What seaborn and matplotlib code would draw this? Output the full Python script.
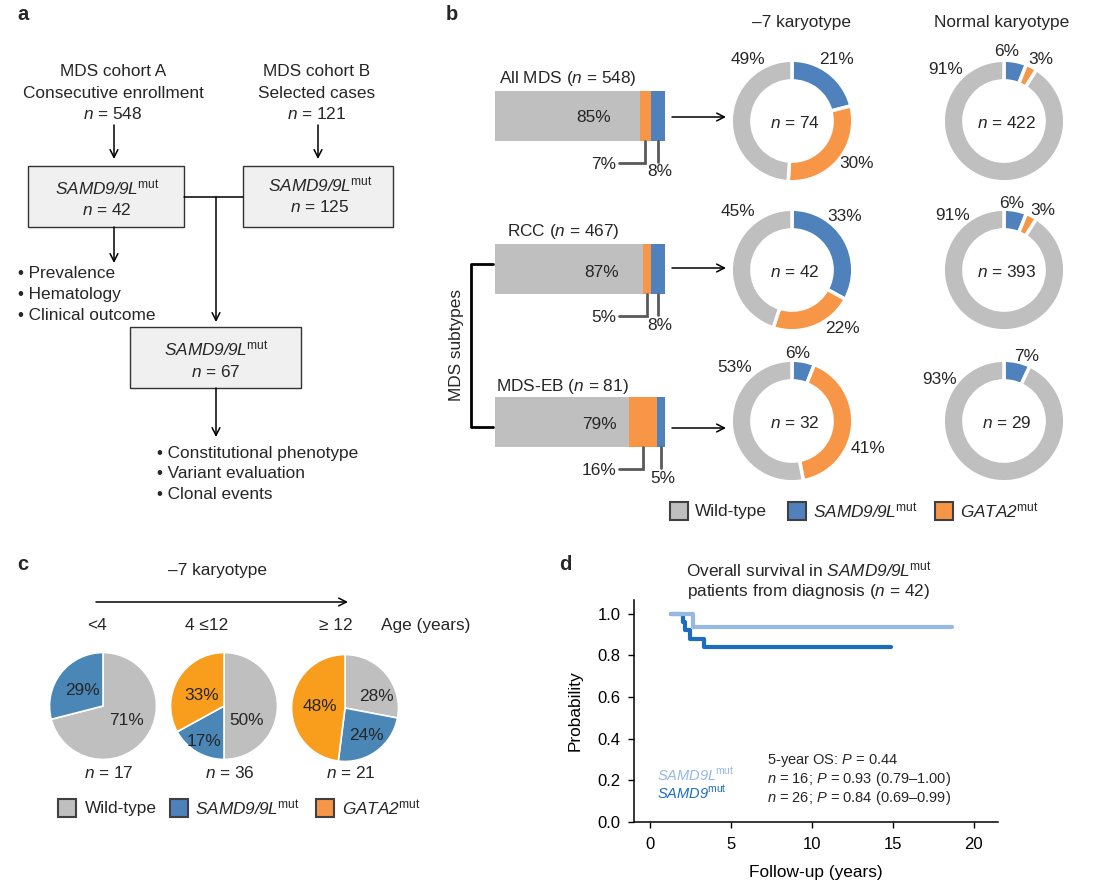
""" Multi-panel figure: SAMD9/9L cohort flow, prevalence bars/donuts,
age pies and overall survival curves
"""

import numpy as np
import pandas as pd
import matplotlib
matplotlib.use('Agg')
import matplotlib.pyplot as plt
from matplotlib.patches import Rectangle
import seaborn as sns

W, H = 1102, 888

# ---------------- data
# panel b, stacked bars (%)
bar_groups = ['All MDS', 'RCC', 'MDS-EB']
bar_n = [548, 467, 81]
bar_wt = [85, 87, 79]
bar_gata2 = [7, 5, 16]
bar_samd9 = [8, 8, 5]

# panel b, donuts (%), order SAMD9/9L, GATA2, wild-type
minus7_n = [74, 42, 32]
minus7_samd9 = [21, 33, 6]
minus7_gata2 = [30, 22, 41]
minus7_wt = [49, 45, 53]
normal_n = [422, 393, 29]
normal_samd9 = [6, 6, 7]
normal_gata2 = [3, 3, 0]
normal_wt = [91, 91, 93]

# panel c, -7 karyotype by age (%), order wild-type, SAMD9/9L, GATA2
age_groups = ['<4', '4 \u226412', '\u2265 12']
age_n = [17, 36, 21]
age_wt = [71, 50, 28]
age_samd9 = [29, 17, 24]
age_gata2 = [0, 33, 48]

# panel d, Kaplan-Meier steps (years, probability)
km_samd9l_t = [1.3, 2.63, 18.65]
km_samd9l_s = [1.0, 0.9375, 0.9375]
km_samd9_t = [1.3, 2.02, 2.15, 2.45, 3.3, 14.9]
km_samd9_s = [1.0, 0.96, 0.92, 0.88, 0.84, 0.84]
cens_samd9l = [3.4, 4.6, 7.4, 8.1, 10.3, 11.2, 13.0]
cens_samd9 = [4.0, 5.2, 7.0, 7.6, 7.9, 10.5, 11.5, 12.4, 12.8, 13.5]

# ---------------- style
GRAY = '#BFBFBF'
BLUE = '#4F81BD'
ORANGE = '#F79646'
C_BLUE = '#4A86B6'
C_ORANGE = '#F99D1C'
KM_LIGHT = '#95B9E3'
KM_DARK = '#1C6DC0'
LEAD = '#595959'
FS = 12.4
EN = '\u2013'

sns.set_theme(style='white')
plt.rcParams['font.family'] = ['Liberation Sans', 'DejaVu Sans']
plt.rcParams['mathtext.fontset'] = 'custom'
plt.rcParams['mathtext.rm'] = 'Liberation Sans'
plt.rcParams['mathtext.it'] = 'Liberation Sans:italic'
plt.rcParams['mathtext.sf'] = 'Liberation Sans:italic'
plt.rcParams['mathtext.bf'] = 'Liberation Sans:bold'


def gene(g):
    # italic gene name (digits too) with upright superscript
    return r'$\mathsf{%s}^{\rm{mut}}$' % g


SAMD = gene('SAMD9/9L')
GATA = gene('GATA2')


def n_eq(n):
    return r'$\it{n}$ = %d' % n


fig = plt.figure(figsize=(W / 100, H / 100), dpi=100)


def px_axes(x0, y0, w, h):
    return fig.add_axes([x0 / W, 1 - (y0 + h) / H, w / W, h / H])


# overlay in pixel coordinates for text, arrows and boxes
ov = px_axes(0, 0, W, H)
ov.set_xlim(0, W)
ov.set_ylim(H, 0)
ov.axis('off')
ov.set_zorder(10)


def txt(x, y, s, **kw):
    kw.setdefault('fontsize', FS)
    kw.setdefault('ha', 'center')
    kw.setdefault('va', 'center')
    ov.text(x, y, s, **kw)


def arrow(x0, y0, x1, y1):
    ov.annotate('', xy=(x1, y1), xytext=(x0, y0),
                arrowprops=dict(arrowstyle='->,head_length=0.55,head_width=0.28',
                                color='black', lw=1.1, shrinkA=0, shrinkB=0,
                                mutation_scale=10))


def box(x, y, w, h):
    ov.add_patch(Rectangle((x, y), w, h, fc='#F0F0F0', ec='#333333', lw=1))


# panel letters
for lt, (x, y) in zip('abcd', [(23, 15), (452, 15), (23, 564), (565, 564)]):
    txt(x, y, lt, fontsize=14.5, fontweight='bold')

# ---------------- panel a
txt(113, 72, 'MDS cohort A')
txt(113, 93, 'Consecutive enrollment')
txt(113, 114, n_eq(548))
arrow(114, 125, 114, 159)
txt(317, 72, 'MDS cohort B')
txt(317, 93, 'Selected cases')
txt(317, 114, n_eq(121))
arrow(318, 125, 318, 159)

box(28, 166, 156, 61)
txt(107, 188, SAMD)
txt(107, 210, n_eq(42))
box(243, 166, 150, 61)
txt(320, 185, SAMD)
txt(320, 207, n_eq(125))
ov.plot([184, 243], [197, 197], color='black', lw=1.1)
arrow(216, 197, 216, 322)
arrow(114, 227, 114, 263)
for i, s in enumerate(['Prevalence', 'Hematology', 'Clinical outcome']):
    txt(18, 273 + 21 * i, '\u2022 ' + s, ha='left')

box(130, 327, 171, 61)
txt(216, 349, SAMD)
txt(216, 372, n_eq(67))
arrow(216, 388, 216, 437)
for i, s in enumerate(['Constitutional phenotype', 'Variant evaluation',
                       'Clonal events']):
    txt(157, 453 + 20.5 * i, '\u2022 ' + s, ha='left')

# ---------------- panel b, bars
bx = px_axes(495, 91, 170, 356)
df = pd.DataFrame({'group': bar_groups, 'wt': bar_wt,
                   'gata2': bar_gata2, 'samd9': bar_samd9})
df['wt_gata2'] = df['wt'] + df['gata2']
df['total'] = df['wt_gata2'] + df['samd9']
BW = 50 / 153.
kw = dict(y='group', data=df, orient='h', width=BW, saturation=1,
          linewidth=0, ax=bx)
sns.barplot(x='total', color=BLUE, **kw)
sns.barplot(x='wt_gata2', color=ORANGE, **kw)
sns.barplot(x='wt', color=GRAY, **kw)
bx.set_xlim(0, 100)
bx.set_ylim(2 + 0.5 - 0.337, -0.163)
bx.axis('off')

half = BW / 2
drop = 22 / 153.
for i, row in df.iterrows():
    xo = row['wt'] + row['gata2'] / 2.
    xb = row['wt_gata2'] + row['samd9'] / 2.
    yb = i + half
    bx.plot([xo, xo, 73], [yb, yb + drop, yb + drop], color=LEAD, lw=2,
            clip_on=False, solid_joinstyle='miter')
    bx.plot([xb, xb], [yb, yb + drop * 0.95], color=LEAD, lw=2, clip_on=False)
    bx.text(71.5, yb + drop + 0.01, '%d%%' % row['gata2'], ha='right',
            va='center', fontsize=FS, clip_on=False)
    bx.text(xb + 1, yb + 31 / 153., '%d%%' % row['samd9'], ha='center',
            va='center', fontsize=FS, clip_on=False)

row_lab_xy = [(499, 78), (507, 231), (496, 386)]
wt_lab_xy = [(594, 117), (602, 272), (599, 424)]
for i in range(3):
    txt(row_lab_xy[i][0], row_lab_xy[i][1],
        '%s (%s)' % (bar_groups[i], n_eq(bar_n[i])), ha='left')
    txt(wt_lab_xy[i][0], wt_lab_xy[i][1], '%d%%' % bar_wt[i])

# bracket for MDS subtypes
ov.plot([493, 471, 471, 493], [264, 264, 427, 427], color='black', lw=2)
txt(456, 345, 'MDS subtypes', rotation=90)
for y in [117, 268, 428]:
    arrow(672, y, 726, y)

# ---------------- panel b, donuts
R = 62


def donut(cx, cy, vals, cols):
    ax = px_axes(cx - R, cy - R, 2 * R, 2 * R)
    v = [a for a in vals if a > 0]
    c = [b for a, b in zip(vals, cols) if a > 0]
    ax.pie(v, colors=c, startangle=90, counterclock=False,
           wedgeprops=dict(width=0.34, edgecolor='white', linewidth=2.5))
    ax.set_xlim(-1.02, 1.02)
    ax.set_ylim(-1.02, 1.02)
    ax.axis('off')


txt(802, 22, EN + '7 karyotype')
txt(1002, 22, 'Normal karyotype')
d_cy = [121, 270, 421]
m7_lab = [[(837, 59), (857, 164), (748, 59)],
          [(845, 216), (842, 328), (738, 211)],
          [(798, 353), (868, 448), (735, 367)]]
nk_lab = [[(1007, 52), (1041, 59), (946, 69)],
          [(1012, 203), (1043, 210), (953, 215)],
          [(1027, 356), None, (940, 379)]]
for i in range(3):
    vals = [minus7_samd9[i], minus7_gata2[i], minus7_wt[i]]
    donut(792, d_cy[i], vals, [BLUE, ORANGE, GRAY])
    for v, xy in zip(vals, m7_lab[i]):
        txt(xy[0], xy[1], '%d%%' % v)
    txt(795, d_cy[i] + 2, n_eq(minus7_n[i]))

    vals = [normal_samd9[i], normal_gata2[i], normal_wt[i]]
    donut(1004, d_cy[i], vals, [BLUE, ORANGE, GRAY])
    for v, xy in zip(vals, nk_lab[i]):
        if v > 0:
            txt(xy[0], xy[1], '%d%%' % v)
    txt(1007, d_cy[i] + 2, n_eq(normal_n[i]))


def legend(x_sq, x_tx, y, cols):
    for xs, xt, c, s in zip(x_sq, x_tx, cols, ['Wild-type', SAMD, GATA]):
        ov.add_patch(Rectangle((xs, y - 9), 18, 18, fc=c, ec='#404040', lw=1.5))
        txt(xt, y, s, ha='left')


legend([670, 788, 935], [695, 813, 960], 511, [GRAY, BLUE, ORANGE])

# ---------------- panel c
txt(218, 570, EN + '7 karyotype')
arrow(96, 602, 348, 602)
for x, s in zip([97, 207, 336], age_groups):
    txt(x, 625, s)
txt(381, 625, 'Age (years)', ha='left')

RP = 54
pie_c = [(103, 706), (224, 706), (345, 708)]
pie_lab = [[(126, 720), (82, 690), None],
           [(247, 720), (204, 741), (202, 695)],
           [(376, 696), (366, 735), (320, 706)]]
for i, (cx, cy) in enumerate(pie_c):
    ax = px_axes(cx - RP, cy - RP, 2 * RP, 2 * RP)
    vals = [age_wt[i], age_samd9[i], age_gata2[i]]
    v = [a for a in vals if a > 0]
    c = [b for a, b in zip(vals, [GRAY, C_BLUE, C_ORANGE]) if a > 0]
    ax.pie(v, colors=c, startangle=90, counterclock=False,
           wedgeprops=dict(edgecolor='white', linewidth=1.2))
    ax.set_xlim(-1.01, 1.01)
    ax.set_ylim(-1.01, 1.01)
    ax.axis('off')
    for a, xy in zip(vals, pie_lab[i]):
        if a > 0:
            txt(xy[0], xy[1], '%d%%' % a)
    txt(cx + 6, 773, n_eq(age_n[i]))

legend([58, 170, 316], [85, 195, 342], 808, [GRAY, BLUE, ORANGE])

# ---------------- panel d
ax_d = px_axes(634, 600, 364, 222)
sns.lineplot(x=km_samd9l_t, y=km_samd9l_s, drawstyle='steps-post',
             color=KM_LIGHT, lw=3, ax=ax_d, zorder=3)
sns.lineplot(x=km_samd9_t, y=km_samd9_s, drawstyle='steps-post',
             color=KM_DARK, lw=3, ax=ax_d, zorder=2)
ax_d.plot(cens_samd9l, [km_samd9l_s[-1]] * len(cens_samd9l), '|',
          color=KM_LIGHT, ms=3, mew=1.2, zorder=3)
ax_d.plot(cens_samd9, [km_samd9_s[-1]] * len(cens_samd9), '|',
          color=KM_DARK, ms=3, mew=1.2, zorder=2)
ax_d.set_xlim(-1, 21.5)
ax_d.set_ylim(0, 1.065)
ax_d.set_xticks([0, 5, 10, 15, 20])
ax_d.set_yticks(np.arange(0, 1.01, 0.2))
ax_d.set_yticklabels(['%.1f' % t for t in np.arange(0, 1.01, 0.2)])
sns.despine(ax=ax_d)
for s in ['left', 'bottom']:
    ax_d.spines[s].set_color('black')
    ax_d.spines[s].set_linewidth(1.1)
ax_d.tick_params(bottom=True, left=True, direction='out', length=4.5,
                 width=1, labelsize=12, color='black', labelcolor='black')
ax_d.tick_params(axis='x', pad=6)
ax_d.tick_params(axis='y', pad=5)
ax_d.set_xlabel('Follow-up (years)', fontsize=FS, labelpad=10, color='black')
ax_d.set_ylabel('Probability', fontsize=FS, labelpad=11, color='black')

txt(809, 570, 'Overall survival in ' + SAMD)
txt(809, 591, 'patients from diagnosis (%s)' % n_eq(42))
txt(767, 760, r'5-year OS: $\it{P}$ = 0.44', ha='left', fontsize=10.5)
txt(767, 779, r'$\it{n}$ = 16; $\it{P}$ = 0.93 (0.79' + EN + '1.00)',
    ha='left', fontsize=10.5)
txt(767, 798, r'$\it{n}$ = 26; $\it{P}$ = 0.84 (0.69' + EN + '0.99)',
    ha='left', fontsize=10.5)
txt(657, 775, gene('SAMD9L'), ha='left', color=KM_LIGHT, fontsize=10.5)
txt(657, 793, gene('SAMD9'), ha='left', color=KM_DARK, fontsize=10.5)

fig.savefig('out.png', dpi=100)
